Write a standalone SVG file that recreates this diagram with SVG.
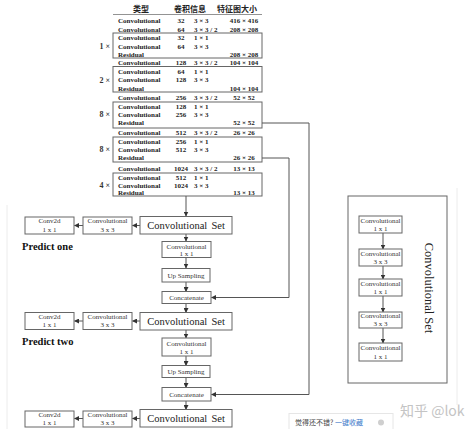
<svg xmlns="http://www.w3.org/2000/svg" width="474" height="429" viewBox="0 0 474 429">
<defs>
<marker id="ah" markerWidth="5" markerHeight="5" refX="4.5" refY="2.5" orient="auto" markerUnits="userSpaceOnUse">
<path d="M0,0 L5,2.5 L0,5 Z" fill="#333"/>
</marker>
</defs>
<style>
.tb{font-family:"Liberation Serif",serif;font-weight:bold;font-size:7px;fill:#222}
.hd{font-family:"Noto Sans CJK SC",sans-serif;font-weight:bold;font-size:8px;fill:#222}
.mul{font-family:"Liberation Serif",serif;font-weight:bold;font-size:8px;fill:#333}
.grp{fill:none;stroke:#666;stroke-width:1}
.box{fill:#fff;stroke:#666;stroke-width:1}
.sm{font-family:"Liberation Serif",serif;font-size:7px;fill:#333;text-anchor:middle}
.lg{font-family:"Liberation Serif",serif;font-size:10.5px;fill:#222;text-anchor:middle}
.pr{font-family:"Liberation Serif",serif;font-weight:bold;font-size:10.5px;fill:#111}
.ln{fill:none;stroke:#666;stroke-width:1}
.ar{fill:none;stroke:#555;stroke-width:1;marker-end:url(#ah)}
</style>
<rect width="474" height="429" fill="#fff"/>
<line x1="7" y1="205" x2="7" y2="429" stroke="#ececec"/>
<line x1="457" y1="188" x2="457" y2="405" stroke="#ececec"/>

<g id="table">
<text class="hd" x="141" y="12" text-anchor="middle">类型</text>
<text class="hd" x="190" y="12" text-anchor="middle">卷积信息</text>
<text class="hd" x="237" y="12" text-anchor="middle">特征图大小</text>
<line x1="113" y1="14.5" x2="262" y2="14.5" stroke="#777" stroke-width="0.8"/>

<rect class="grp" x="113" y="33" width="149" height="25"/>
<rect class="grp" x="113" y="66.5" width="149" height="25.5"/>
<rect class="grp" x="113" y="102" width="149" height="26"/>
<rect class="grp" x="113" y="137" width="149" height="25"/>
<rect class="grp" x="113" y="173" width="149" height="23"/>

<text class="mul" x="110" y="49" text-anchor="end">1 ×</text>
<text class="mul" x="110" y="82.5" text-anchor="end">2 ×</text>
<text class="mul" x="110" y="117" text-anchor="end">8 ×</text>
<text class="mul" x="110" y="152" text-anchor="end">8 ×</text>
<text class="mul" x="110" y="188" text-anchor="end">4 ×</text>

<g class="tb">
<text x="118" y="22.5">Convolutional</text><text x="181" y="22.5" text-anchor="middle">32</text><text x="194" y="22.5">3 × 3</text><text x="244" y="22.5" text-anchor="middle">416 × 416</text>
<text x="118" y="31.5">Convolutional</text><text x="181" y="31.5" text-anchor="middle">64</text><text x="194" y="31.5">3 × 3 / 2</text><text x="244" y="31.5" text-anchor="middle">208 × 208</text>
<text x="118" y="40">Convolutional</text><text x="181" y="40" text-anchor="middle">32</text><text x="194" y="40">1 × 1</text>
<text x="118" y="48.5">Convolutional</text><text x="181" y="48.5" text-anchor="middle">64</text><text x="194" y="48.5">3 × 3</text>
<text x="118" y="57">Residual</text><text x="244" y="57" text-anchor="middle">208 × 208</text>
<text x="118" y="64.5">Convolutional</text><text x="181" y="64.5" text-anchor="middle">128</text><text x="194" y="64.5">3 × 3 / 2</text><text x="244" y="64.5" text-anchor="middle">104 × 104</text>
<text x="118" y="73.5">Convolutional</text><text x="181" y="73.5" text-anchor="middle">64</text><text x="194" y="73.5">1 × 1</text>
<text x="118" y="82">Convolutional</text><text x="181" y="82" text-anchor="middle">128</text><text x="194" y="82">3 × 3</text>
<text x="118" y="90.5">Residual</text><text x="244" y="90.5" text-anchor="middle">104 × 104</text>
<text x="118" y="100">Convolutional</text><text x="181" y="100" text-anchor="middle">256</text><text x="194" y="100">3 × 3 / 2</text><text x="244" y="100" text-anchor="middle">52 × 52</text>
<text x="118" y="108.5">Convolutional</text><text x="181" y="108.5" text-anchor="middle">128</text><text x="194" y="108.5">1 × 1</text>
<text x="118" y="116.5">Convolutional</text><text x="181" y="116.5" text-anchor="middle">256</text><text x="194" y="116.5">3 × 3</text>
<text x="118" y="125">Residual</text><text x="244" y="125" text-anchor="middle">52 × 52</text>
<text x="118" y="134.5">Convolutional</text><text x="181" y="134.5" text-anchor="middle">512</text><text x="194" y="134.5">3 × 3 / 2</text><text x="244" y="134.5" text-anchor="middle">26 × 26</text>
<text x="118" y="144">Convolutional</text><text x="181" y="144" text-anchor="middle">256</text><text x="194" y="144">1 × 1</text>
<text x="118" y="151.5">Convolutional</text><text x="181" y="151.5" text-anchor="middle">512</text><text x="194" y="151.5">3 × 3</text>
<text x="118" y="160">Residual</text><text x="244" y="160" text-anchor="middle">26 × 26</text>
<text x="118" y="170.5">Convolutional</text><text x="181" y="170.5" text-anchor="middle">1024</text><text x="194" y="170.5">3 × 3 / 2</text><text x="244" y="170.5" text-anchor="middle">13 × 13</text>
<text x="118" y="179.5">Convolutional</text><text x="181" y="179.5" text-anchor="middle">512</text><text x="194" y="179.5">1 × 1</text>
<text x="118" y="187.5">Convolutional</text><text x="181" y="187.5" text-anchor="middle">1024</text><text x="194" y="187.5">3 × 3</text>
<text x="118" y="195">Residual</text><text x="244" y="195" text-anchor="middle">13 × 13</text>
</g>
</g>

<g id="connectors">
<path class="ar" d="M186,196 V216"/>
<path class="ar" d="M140,225.5 H132.5"/>
<path class="ar" d="M83,225.5 H74.5"/>
<path class="ar" d="M186,234 V241"/>
<path class="ar" d="M186,257 V268"/>
<path class="ar" d="M186,282 V291.5"/>
<path class="ar" d="M262,158 H289 V297.5 H211.5"/>
<path class="ar" d="M186,303.5 V312.5"/>
<path class="ar" d="M140,321 H132.5"/>
<path class="ar" d="M83,321 H74.5"/>
<path class="ar" d="M186,330 V338"/>
<path class="ar" d="M186,356 V365.5"/>
<path class="ar" d="M186,377.5 V387.5"/>
<path class="ar" d="M262,123 H309 V394.5 H211.5"/>
<path class="ar" d="M186,401 V409.5"/>
<path class="ar" d="M140,418.5 H132.5"/>
<path class="ar" d="M83,418.5 H74.5"/>
<path class="ar" d="M383,233 V249"/>
<path class="ar" d="M383,266 V279"/>
<path class="ar" d="M383,296 V312"/>
<path class="ar" d="M383,328 V343"/>
</g>

<g id="convset1"><rect class="box" x="140" y="216.5" width="92" height="17.5"/><text class="lg" x="186" y="229">Convolutional <tspan dx="1.5">Set</tspan></text></g>
<g id="conv3x3-1"><rect class="box" x="83" y="217" width="49" height="17"/><text class="sm" x="107.5" y="223">Convolutional</text><text class="sm" x="107.5" y="231.5">3 x 3</text></g>
<g id="conv2d-1"><rect class="box" x="25" y="217" width="49" height="17"/><text class="sm" x="49.5" y="223">Conv2d</text><text class="sm" x="49.5" y="231.5">1 x 1</text></g>
<text class="pr" x="22" y="249.5">Predict one</text>
<g id="conv1x1-1"><rect class="box" x="162" y="241.5" width="49" height="16"/><text class="sm" x="186.5" y="248.5">Convolutional</text><text class="sm" x="186.5" y="256">1 x 1</text></g>
<g id="upsample-1"><rect class="box" x="162" y="268.5" width="48" height="13.5"/><text class="sm" x="186" y="277.5">Up Sampling</text></g>
<g id="concat-1"><rect class="box" x="162" y="291.5" width="49" height="12"/><text class="sm" x="186.5" y="299.8">Concatenate</text></g>

<g id="convset2"><rect class="box" x="140" y="312.5" width="92" height="17.5"/><text class="lg" x="186" y="325">Convolutional <tspan dx="1.5">Set</tspan></text></g>
<g id="conv3x3-2"><rect class="box" x="83" y="312.5" width="49" height="17"/><text class="sm" x="107.5" y="318.5">Convolutional</text><text class="sm" x="107.5" y="327">3 x 3</text></g>
<g id="conv2d-2"><rect class="box" x="25" y="312.5" width="49" height="17"/><text class="sm" x="49.5" y="318.5">Conv2d</text><text class="sm" x="49.5" y="327">1 x 1</text></g>
<text class="pr" x="22" y="344.5">Predict two</text>
<g id="conv1x1-2"><rect class="box" x="162" y="338" width="49" height="18"/><text class="sm" x="186.5" y="345.5">Convolutional</text><text class="sm" x="186.5" y="353.5">1 x 1</text></g>
<g id="upsample-2"><rect class="box" x="162" y="365.5" width="48" height="12"/><text class="sm" x="186" y="374">Up Sampling</text></g>
<g id="concat-2"><rect class="box" x="162" y="387.5" width="49" height="13.5"/><text class="sm" x="186.5" y="396.5">Concatenate</text></g>

<g id="convset3"><rect class="box" x="140" y="409.5" width="92" height="17.5"/><text class="lg" x="186" y="422">Convolutional <tspan dx="1.5">Set</tspan></text></g>
<g id="conv3x3-3"><rect class="box" x="83" y="411" width="49" height="16"/><text class="sm" x="107.5" y="417">Convolutional</text><text class="sm" x="107.5" y="425">3 x 3</text></g>
<g id="conv2d-3"><rect class="box" x="25" y="411" width="49" height="16"/><text class="sm" x="49.5" y="417">Conv2d</text><text class="sm" x="49.5" y="425">1 x 1</text></g>

<g id="convset-detail">
<rect class="grp" x="348" y="196" width="99" height="187"/>
<text class="lg" transform="translate(425,288) rotate(90)" style="font-size:12.5px">Convolutional Set</text>
<g id="cs-1"><rect class="box" x="359" y="216" width="43" height="17"/><text class="sm" x="380.5" y="222.5">Convolutional</text><text class="sm" x="380.5" y="230.5">1 x 1</text></g>
<g id="cs-2"><rect class="box" x="359" y="249" width="43" height="17"/><text class="sm" x="380.5" y="255.5">Convolutional</text><text class="sm" x="380.5" y="263.5">3 x 3</text></g>
<g id="cs-3"><rect class="box" x="359" y="279" width="43" height="17"/><text class="sm" x="380.5" y="285.5">Convolutional</text><text class="sm" x="380.5" y="293.5">1 x 1</text></g>
<g id="cs-4"><rect class="box" x="359" y="312" width="43" height="16"/><text class="sm" x="380.5" y="318">Convolutional</text><text class="sm" x="380.5" y="326">3 x 3</text></g>
<g id="cs-5"><rect class="box" x="359" y="343" width="43" height="18"/><text class="sm" x="380.5" y="350">Convolutional</text><text class="sm" x="380.5" y="358.5">1 x 1</text></g>
</g>

<g id="watermark">
<text x="400" y="416" style="font-family:'Noto Sans CJK SC',sans-serif;font-size:14px;fill:#c4c4c4">知乎 @lok</text>
<rect x="289" y="413.5" width="104" height="16" fill="#fff" stroke="#e6e6e6"/>
<text x="295" y="425" style="font-family:'Noto Sans CJK SC',sans-serif;font-size:7px;fill:#444">觉得还不错? <tspan style="fill:#3a79c9">一键收藏</tspan></text>
<circle cx="381" cy="422.5" r="3" fill="#cfcfcf"/>
</g>
</svg>
